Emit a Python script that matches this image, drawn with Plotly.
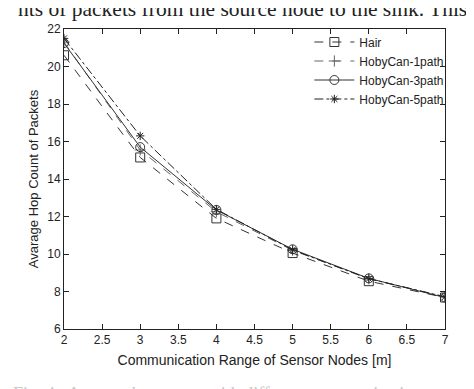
import plotly.graph_objects as go

x_range = [2, 3, 4, 5, 6, 7]
hair = [20.6, 15.15, 11.9, 10.05, 8.55, 7.68]
hoby1 = [21.3, 15.55, 12.25, 10.2, 8.68, 7.72]
hoby3 = [21.25, 15.7, 12.35, 10.25, 8.7, 7.68]
hoby5 = [21.5, 16.3, 12.38, 10.22, 8.68, 7.72]

x_ticks = [2, 2.5, 3, 3.5, 4, 4.5, 5, 5.5, 6, 6.5, 7]
y_ticks = [6, 8, 10, 12, 14, 16, 18, 20, 22]

series = [
    ("Hair", hair, "square-open", "dash", "#333333", 9),
    ("HobyCan-1path", hoby1, "cross-thin-open", "dash", "#666666", 8),
    ("HobyCan-3path", hoby3, "circle-open", "solid", "#333333", 9),
    ("HobyCan-5path", hoby5, "asterisk-open", "dashdot", "#222222", 7),
]

fig = go.Figure()
for name, vals, sym, dash, col, ms in series:
    fig.add_trace(go.Scatter(
        x=x_range, y=vals, name=name, mode="lines+markers",
        line=dict(color=col, width=1, dash=dash),
        marker=dict(symbol=sym, size=ms, color=col, line=dict(color=col, width=1)),
    ))

axis_common = dict(
    showline=True, linecolor="#222222", linewidth=1, mirror="ticks",
    ticks="inside", ticklen=5, tickcolor="#222222",
    showgrid=False, zeroline=False, automargin=False,
    tickfont=dict(family="Liberation Sans, Arial", size=12, color="#222222"),
)

fig.update_xaxes(range=[2, 7], tickvals=x_ticks, ticktext=[f"{v:g}" for v in x_ticks],
                 title=dict(text="Communication Range of Sensor Nodes [m]",
                            font=dict(family="Liberation Sans, Arial", size=14, color="#222222"),
                            standoff=8),
                 **axis_common)
fig.update_yaxes(range=[6, 22], tickvals=y_ticks, ticktext=[str(v) for v in y_ticks],
                 title=dict(text="Avarage Hop Count of Packets",
                            font=dict(family="Liberation Sans, Arial", size=13, color="#222222"),
                            standoff=5),
                 **axis_common)

fig.add_annotation(text="nts of packets from the source node to the sink. This",
                   xref="paper", yref="paper", x=1.062, y=1.068,
                   xanchor="right", yanchor="middle", showarrow=False,
                   font=dict(family="Liberation Serif, Times New Roman", size=21.5, color="#222222"))
fig.add_annotation(text="Fig. 4.  Average hop count with different communication ranges.",
                   xref="paper", yref="paper", x=-0.14, y=-0.177,
                   xanchor="left", yanchor="top", showarrow=False,
                   font=dict(family="Liberation Serif, Times New Roman", size=18, color="#c8c8c8"))

fig.update_layout(
    width=466, height=381,
    margin=dict(l=56, r=29, t=21, b=60),
    paper_bgcolor="white", plot_bgcolor="white",
    legend=dict(x=0.644, y=1.005, xanchor="left", yanchor="top",
                bgcolor="rgba(255,255,255,0)", borderwidth=0,
                font=dict(family="Liberation Sans, Arial", size=12, color="#222222"),
                tracegroupgap=0, itemwidth=40),
    showlegend=True,
)

fig.write_html("out.html")
